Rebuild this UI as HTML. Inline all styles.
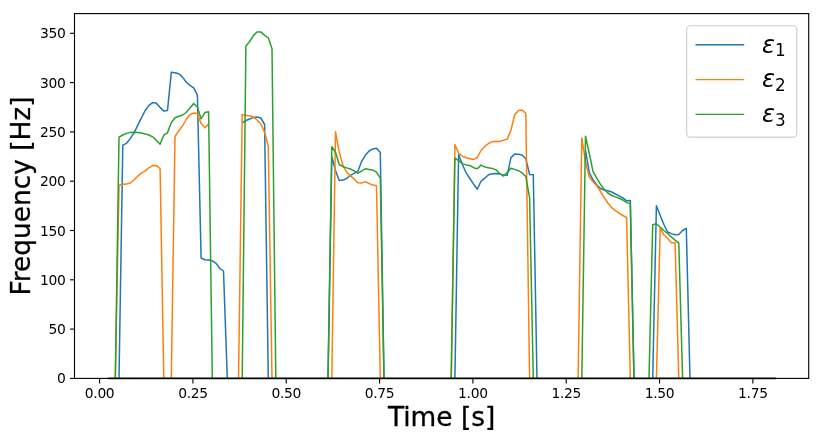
<!DOCTYPE html>
<html lang="en"><head><meta charset="utf-8"><title>Frequency vs Time</title>
<style>
html,body{margin:0;padding:0;background:#fff;}
body{width:823px;height:441px;overflow:hidden;}
svg{display:block;}
text{font-family:"DejaVu Sans","Liberation Sans",sans-serif;fill:#000;}
.tk{font-size:13.89px;letter-spacing:-0.33px;}
.lb{font-size:26.4px;stroke:#000;stroke-width:0.3px;}
.lg{font-size:24px;}
.ln{fill:none;stroke-width:1.5;stroke-linejoin:round;stroke-linecap:butt;}
</style></head><body>
<svg width="823" height="441" viewBox="0 0 823 441">
<rect x="0" y="0" width="823" height="441" fill="#fff"/>
<defs><clipPath id="ax"><rect x="74.5" y="13.6" width="734.2" height="364.5"/></clipPath></defs>
<g clip-path="url(#ax)">
<polyline class="ln" stroke="#1f77b4" points="107.8,378.9 119.0,378.9 122.8,145.2 126.5,143.3 130.2,138.6 134.0,132.8 137.7,125.3 141.4,117.8 145.2,110.5 148.9,105.4 152.6,102.6 156.4,103.2 160.1,107.4 163.8,111.1 167.5,110.4 171.3,72.2 175.0,72.7 178.7,73.7 182.5,77.1 186.2,82.0 189.9,85.4 193.7,87.9 197.4,95.2 201.1,258.0 204.9,259.8 208.6,260.0 212.3,260.8 216.1,263.4 219.8,268.5 223.5,271.0 227.3,378.9 238.5,378.9"/>
<polyline class="ln" stroke="#1f77b4" points="242.2,122.9 245.9,120.5 249.7,119.0 253.4,117.4 257.1,117.1 260.8,118.0 264.6,124.5 268.3,378.9 328.0,378.9 331.8,156.5 335.5,170.5 339.2,180.5 343.0,180.1 346.7,178.5 350.4,175.3 354.1,173.3 357.9,171.2 361.6,161.5 365.3,155.3 369.1,151.0 372.8,148.9 376.5,148.3 380.3,152.6 384.0,378.9 454.9,378.9 458.6,154.4 462.4,164.5 466.1,172.8 469.8,178.5 473.6,184.2 477.3,189.2 481.0,181.3 484.8,178.2 488.5,174.8 492.2,173.7 496.0,173.6 499.7,173.9 503.4,175.0 507.2,175.3 510.9,157.8 514.6,154.1 518.4,154.3 522.1,154.9 525.8,158.8 529.6,174.5 533.3,174.7 537.0,378.9 581.8,378.9"/>
<polyline class="ln" stroke="#1f77b4" points="585.5,150.3 589.3,172.5 593.0,179.8 596.7,184.8 600.5,188.5 604.2,190.0 607.9,190.7 611.7,192.0 615.4,194.0 619.1,195.8 622.9,197.8 626.6,200.8 630.3,200.6 634.0,378.9 652.7,378.9 656.4,205.7 660.2,215.5 663.9,224.5 667.6,232.0 671.4,233.6 675.1,234.8 678.8,234.4 682.6,230.5 686.3,228.3 690.0,378.9 775.9,378.9"/>
<polyline class="ln" stroke="#ff7f0e" points="107.8,378.9 115.3,378.9 119.0,185.3 122.8,184.3 126.5,184.1 130.2,183.0 134.0,180.0 137.7,176.2 141.4,173.2 145.2,170.9 148.9,167.8 152.6,165.6 156.4,165.7 160.1,168.5 163.8,378.9 171.3,378.9 175.0,136.5 178.7,131.0 182.5,126.0 186.2,119.5 189.9,114.8 193.7,113.0 197.4,113.6 201.1,123.5 204.9,127.7 208.6,124.1"/>
<polyline class="ln" stroke="#ff7f0e" points="212.3,378.9 238.5,378.9 242.2,114.4 245.9,115.6 249.7,115.8 253.4,117.1 257.1,120.0 260.8,124.0 264.6,132.3 268.3,146.3 272.0,378.9 331.8,378.9 335.5,131.8 339.2,152.0 343.0,165.6 346.7,172.2 350.4,175.9 354.1,178.9 357.9,182.8 361.6,183.1 365.3,181.6 369.1,183.5 372.8,185.1 376.5,185.8 380.3,378.9 451.2,378.9 454.9,144.6 458.6,153.0 462.4,156.3 466.1,157.8 469.8,158.7 473.6,159.4 477.3,157.5 481.0,150.5 484.8,146.4 488.5,143.5 492.2,141.7 496.0,141.3 499.7,141.6 503.4,140.2 507.2,139.1 510.9,130.5 514.6,115.0 518.4,110.6 522.1,110.1 525.8,113.2 529.6,378.9 578.1,378.9 581.8,137.9 585.5,162.0 589.3,177.0 593.0,181.8 596.7,185.7 600.5,191.5 604.2,197.5 607.9,203.0 611.7,207.6 615.4,210.6 619.1,213.2 622.9,215.5 626.6,217.5 630.3,378.9 656.4,378.9 660.2,228.1 663.9,234.8 667.6,238.3 671.4,242.8 675.1,242.8 678.8,378.9 775.9,378.9"/>
<polyline class="ln" stroke="#2ca02c" points="107.8,378.9 115.3,378.9 119.0,137.2 122.8,135.0 126.5,133.4 130.2,132.4 134.0,132.2 137.7,132.5 141.4,133.0 145.2,133.9 148.9,135.0 152.6,136.8 156.4,140.4 160.1,144.3 163.8,135.2 167.5,132.8 171.3,122.5 175.0,117.8 178.7,116.2 182.5,115.0 186.2,112.5 189.9,107.9 193.7,103.6 197.4,107.0 201.1,118.9 204.9,112.6 208.6,111.8 212.3,378.9 242.2,378.9 245.9,45.9 249.7,41.5 253.4,35.6 257.1,31.9 260.8,31.9 264.6,35.4 268.3,37.8 272.0,48.8 275.8,378.9 328.0,378.9 331.8,146.8 335.5,152.0 339.2,164.5 343.0,166.7 346.7,167.9 350.4,169.0 354.1,170.8 357.9,173.3 361.6,170.9 365.3,168.8 369.1,169.4 372.8,170.1 376.5,172.2 380.3,178.1 384.0,378.9 451.2,378.9 454.9,158.0 458.6,160.6 462.4,163.6 466.1,164.9 469.8,165.4 473.6,167.7 477.3,168.8 481.0,165.1 484.8,166.9 488.5,167.8 492.2,168.4 496.0,169.9 499.7,173.5 503.4,176.1 507.2,172.5 510.9,168.2 514.6,169.4 518.4,170.7 522.1,172.8 525.8,176.6 529.6,197.6 533.3,378.9 581.8,378.9 585.5,136.2 589.3,153.5 593.0,171.3 596.7,178.2 600.5,184.3 604.2,189.4 607.9,193.0 611.7,195.5 615.4,196.9 619.1,198.3 622.9,200.0 626.6,202.6 630.3,203.6 634.0,378.9 649.0,378.9 652.7,224.8 656.4,223.7 660.2,227.2 663.9,230.5 667.6,233.5 671.4,237.2 675.1,240.2 678.8,243.2 682.6,378.9 775.9,378.9"/>
</g>
<g stroke="#000" stroke-width="1.11">
<line x1="99.60" y1="378.40" x2="99.60" y2="383.50"/>
<line x1="192.93" y1="378.40" x2="192.93" y2="383.50"/>
<line x1="286.25" y1="378.40" x2="286.25" y2="383.50"/>
<line x1="379.58" y1="378.40" x2="379.58" y2="383.50"/>
<line x1="472.90" y1="378.40" x2="472.90" y2="383.50"/>
<line x1="566.23" y1="378.40" x2="566.23" y2="383.50"/>
<line x1="659.55" y1="378.40" x2="659.55" y2="383.50"/>
<line x1="752.88" y1="378.40" x2="752.88" y2="383.50"/>
<line x1="70.00" y1="378.40" x2="74.50" y2="378.40"/>
<line x1="70.00" y1="329.10" x2="74.50" y2="329.10"/>
<line x1="70.00" y1="279.80" x2="74.50" y2="279.80"/>
<line x1="70.00" y1="230.50" x2="74.50" y2="230.50"/>
<line x1="70.00" y1="181.20" x2="74.50" y2="181.20"/>
<line x1="70.00" y1="131.90" x2="74.50" y2="131.90"/>
<line x1="70.00" y1="82.60" x2="74.50" y2="82.60"/>
<line x1="70.00" y1="33.30" x2="74.50" y2="33.30"/>
</g>
<line x1="107.8" y1="378.40" x2="775.9" y2="378.40" stroke="#1f3314" stroke-width="1.7"/>
<rect x="74.50" y="13.60" width="734.20" height="364.80" fill="none" stroke="#000" stroke-width="1.11" stroke-linejoin="miter"/>
<text class="tk" x="99.60" y="398.1" text-anchor="middle">0.00</text>
<text class="tk" x="192.93" y="398.1" text-anchor="middle">0.25</text>
<text class="tk" x="286.25" y="398.1" text-anchor="middle">0.50</text>
<text class="tk" x="379.58" y="398.1" text-anchor="middle">0.75</text>
<text class="tk" x="472.90" y="398.1" text-anchor="middle">1.00</text>
<text class="tk" x="566.23" y="398.1" text-anchor="middle">1.25</text>
<text class="tk" x="659.55" y="398.1" text-anchor="middle">1.50</text>
<text class="tk" x="752.88" y="398.1" text-anchor="middle">1.75</text>
<text class="tk" x="65.5" y="383.40" text-anchor="end">0</text>
<text class="tk" x="65.5" y="334.10" text-anchor="end">50</text>
<text class="tk" x="65.5" y="284.80" text-anchor="end">100</text>
<text class="tk" x="65.5" y="235.50" text-anchor="end">150</text>
<text class="tk" x="65.5" y="186.20" text-anchor="end">200</text>
<text class="tk" x="65.5" y="136.90" text-anchor="end">250</text>
<text class="tk" x="65.5" y="87.60" text-anchor="end">300</text>
<text class="tk" x="65.5" y="38.30" text-anchor="end">350</text>
<text class="lb" x="441.6" y="425.9" text-anchor="middle">Time [s]</text>
<text class="lb" transform="translate(29.9,196) rotate(-90)" text-anchor="middle">Frequency [Hz]</text>
<rect x="686.6" y="25.6" width="110.1" height="111.7" rx="3.8" ry="3.8" fill="#fff" fill-opacity="0.8" stroke="#ccc" stroke-opacity="0.8" stroke-width="1.39"/>
<line x1="695.5" y1="44.8" x2="744.2" y2="44.8" stroke="#1f77b4" stroke-width="1.39"/>
<text class="lg" x="761.9" y="52.5"><tspan font-style="italic">ε</tspan><tspan font-size="16.8px" dy="3.4">1</tspan></text>
<line x1="695.5" y1="79.6" x2="744.2" y2="79.6" stroke="#ff7f0e" stroke-width="1.39"/>
<text class="lg" x="761.9" y="87.3"><tspan font-style="italic">ε</tspan><tspan font-size="16.8px" dy="3.4">2</tspan></text>
<line x1="695.5" y1="114.4" x2="744.2" y2="114.4" stroke="#2ca02c" stroke-width="1.39"/>
<text class="lg" x="761.9" y="122.1"><tspan font-style="italic">ε</tspan><tspan font-size="16.8px" dy="3.4">3</tspan></text>
</svg>
</body></html>
